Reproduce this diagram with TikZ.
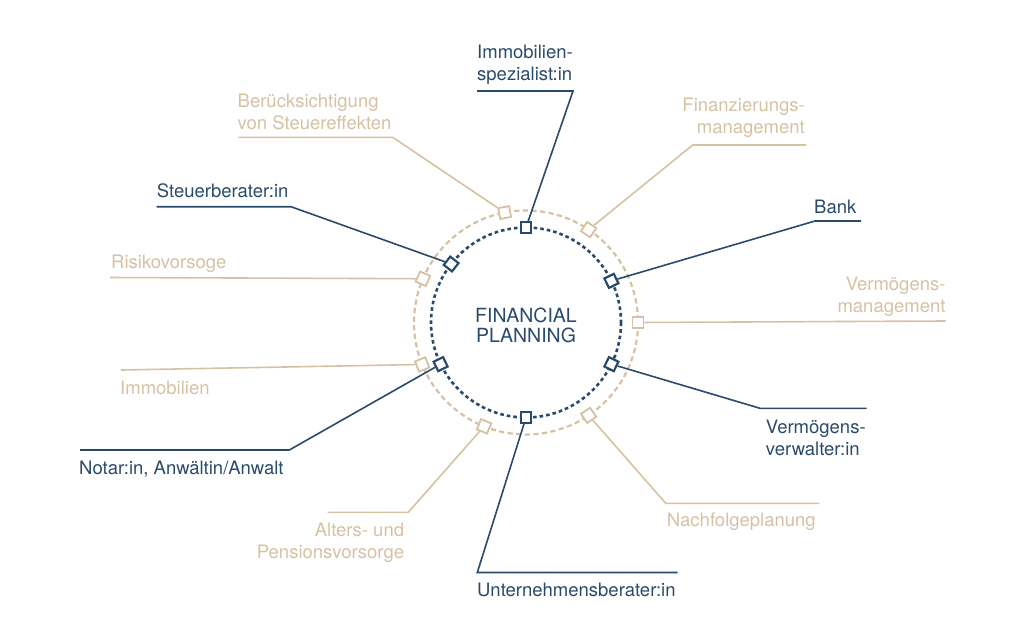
\documentclass[tikz,border=0pt]{standalone}
\usepackage{fontspec}
\setmainfont{TeX Gyre Heros}
\usetikzlibrary{positioning}
\definecolor{fpblue}{RGB}{42,74,107}
\definecolor{fptan}{RGB}{214,193,163}

\begin{document}
\begin{tikzpicture}[
        x=1pt, y=-1pt, % 一个单位 = 一个像素, y 轴向下
        lbl/.style={inner sep=0, font=\fontsize{18.5}{22}\selectfont}, % 标签字体
        blbl/.style={lbl, text=fpblue}, % 蓝色标签
        tlbl/.style={lbl, text=fptan}, % 浅棕色标签
        bsq/.style={draw=fpblue, fill=white, line width=2.2pt, minimum size=10.5pt, inner sep=0}, % 内圈方块
        tsq/.style={draw=fptan, fill=white, line width=1.8pt, minimum size=11pt, inner sep=0}, % 外圈方块
        bline/.style={draw=fpblue, line width=1.6pt}, % 蓝色连线
        tline/.style={draw=fptan, line width=1.6pt} % 浅棕色连线
    ]
    \useasboundingbox (0,0) rectangle (1024,640);

    % 两个圆环
    \coordinate (C) at (526,322.5);
    \draw[fptan, line width=2.2pt, dash pattern=on 5.2pt off 3.4pt] (C) circle [radius=112];
    \draw[fpblue, line width=2.6pt, dash pattern=on 3.6pt off 3pt] (C) circle [radius=95];
    \node[font=\fontsize{19.5}{20.6}\selectfont, text=fpblue, align=center, inner sep=0] (fp) at (526,325.5) {FINANCIAL\\PLANNING}; % 中心文字

    % 内圈方块 (角度向下为正)
    \foreach \n/\a in {b1/-90, b2/-142, b3/-26, b4/26, b5/154, b6/90}
        \node[bsq, rotate={-(\a)}] (\n) at ([shift={(\a:95)}]C) {};
    % 外圈方块
    \foreach \n/\a in {t1/-101, t2/-56, t3/-157, t4/0, t5/158, t6/112, t7/56}
        \node[tsq, rotate={-(\a)}] (\n) at ([shift={(\a:112)}]C) {};

    % 蓝色连线与标签
    \coordinate (b1k) at (573,91);     \coordinate (b1e) at (477,91);
    \draw[bline] (b1) -- (b1k) -- (b1e);
    \node[blbl, align=left, anchor=base west] (l1) at (477,80) {Immobilien-\\spezialist:in};

    \coordinate (b2k) at (291,206.7);  \coordinate (b2e) at (156.7,206.7);
    \draw[bline] (b2) -- (b2k) -- (b2e);
    \node[blbl, anchor=base west] (l2) at (156.7,197.3) {Steuerberater:in};

    \coordinate (b3k) at (815,221);    \coordinate (b3e) at (861,221);
    \draw[bline] (b3) -- (b3k) -- (b3e);
    \node[blbl, anchor=base west] (l3) at (814,213.3) {Bank};

    \coordinate (b4k) at (760,408.3);  \coordinate (b4e) at (866.7,408.3);
    \draw[bline] (b4) -- (b4k) -- (b4e);
    \node[blbl, align=left, anchor=base west] (l4) at (765.7,455) {Vermögens-\\verwalter:in};

    \coordinate (b5k) at (289.3,450);  \coordinate (b5e) at (80,450);
    \draw[bline] (b5) -- (b5k) -- (b5e);
    \node[blbl, anchor=base west] (l5) at (79,474.3) {Notar:in, Anwältin/Anwalt};

    \coordinate (b6k) at (477.3,572.5); \coordinate (b6e) at (677.7,572.5);
    \draw[bline] (b6) -- (b6k) -- (b6e);
    \node[blbl, anchor=base west] (l6) at (477,596.7) {Unternehmensberater:in};

    % 浅棕色连线与标签
    \coordinate (t1k) at (392.7,137.3); \coordinate (t1e) at (238.3,137.3);
    \draw[tline] (t1) -- (t1k) -- (t1e);
    \node[tlbl, align=left, anchor=base west] (m1) at (237.5,129.3) {Berücksichtigung\\von Steuereffekten};

    \coordinate (t2k) at (692.7,145);  \coordinate (t2e) at (806,145);
    \draw[tline] (t2) -- (t2k) -- (t2e);
    \node[tlbl, align=right, anchor=base east] (m2) at (805,133.3) {Finanzierungs-\\management};

    \coordinate (t3e) at (110,277.5);
    \draw[tline] (t3) -- (t3e);
    \node[tlbl, anchor=base west] (m3) at (111,268.3) {Risikovorsoge};

    \coordinate (t4e) at (945.7,321);
    \draw[tline] (t4) -- (t4e);
    \node[tlbl, align=right, anchor=base east] (m4) at (945.7,312.7) {Vermögens-\\management};

    \coordinate (t5e) at (121,370);
    \draw[tline] (t5) -- (t5e);
    \node[tlbl, anchor=base west] (m5) at (120,394.3) {Immobilien};

    \coordinate (t6k) at (408.3,512.3); \coordinate (t6e) at (327.7,512.3);
    \draw[tline] (t6) -- (t6k) -- (t6e);
    \node[tlbl, align=right, anchor=base east] (m6) at (404.3,558.3) {Alters- und\\Pensionsvorsorge};

    \coordinate (t7k) at (665.7,503.3); \coordinate (t7e) at (819.3,503.3);
    \draw[tline] (t7) -- (t7k) -- (t7e);
    \node[tlbl, anchor=base west] (m7) at (666.7,526) {Nachfolgeplanung};
\end{tikzpicture}
\end{document}
